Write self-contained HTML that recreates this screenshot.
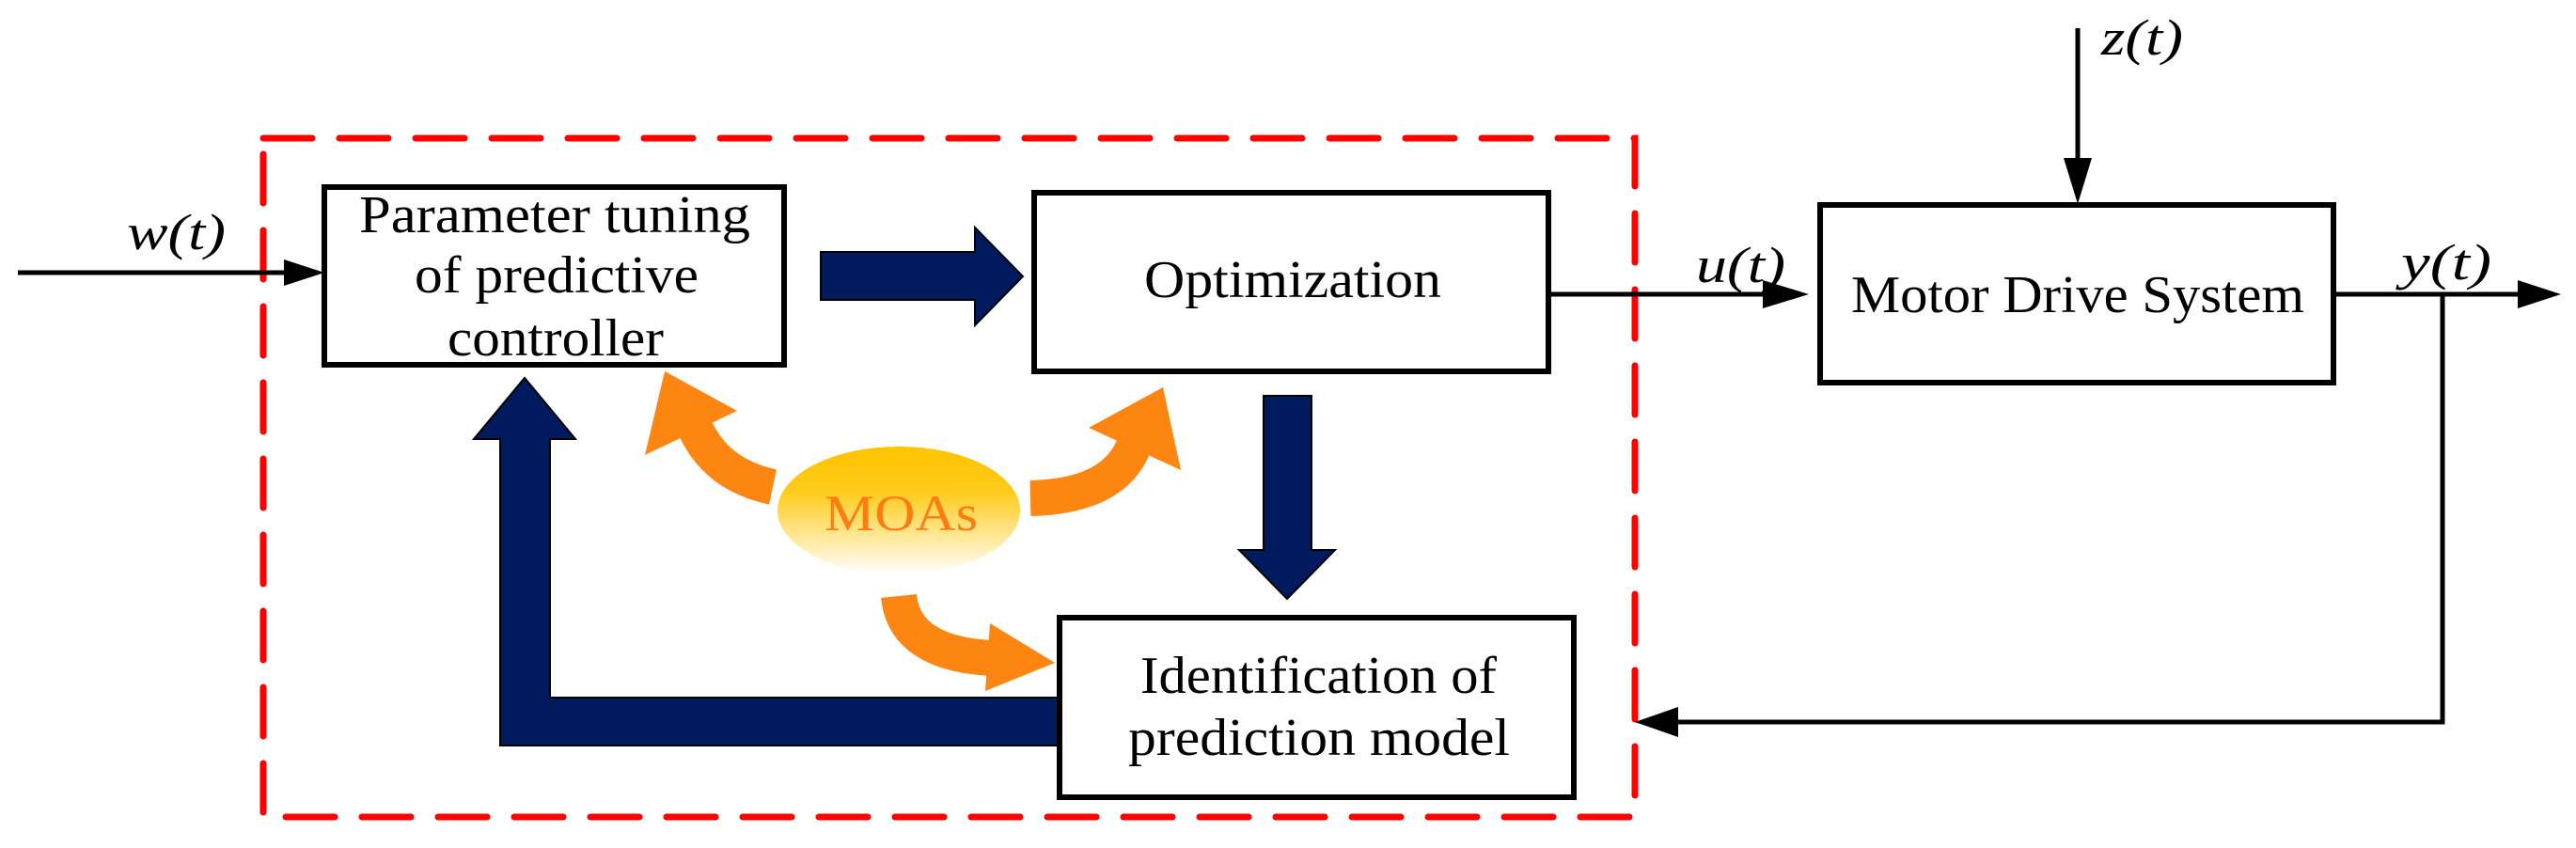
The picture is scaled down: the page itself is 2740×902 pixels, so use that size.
<!DOCTYPE html>
<html><head><meta charset="utf-8"><style>
html,body{margin:0;padding:0;background:#fff;}
svg{display:block;}
text{font-family:"Liberation Serif",serif;fill:#000;}
.it{font-style:italic;}
</style></head><body>
<svg width="2740" height="902" viewBox="0 0 2740 902" xmlns="http://www.w3.org/2000/svg">
<defs>
<linearGradient id="g" x1="0" y1="0" x2="0" y2="1">
<stop offset="0" stop-color="#ffc300"/>
<stop offset="0.35" stop-color="#ffcb1a"/>
<stop offset="1" stop-color="#ffffff"/>
</linearGradient>
</defs>
<!-- dashed box -->
<rect x="280" y="147" width="1459" height="722" fill="none" stroke="#ff0000" stroke-width="7" stroke-dasharray="52 29" stroke-linecap="round"/>

<!-- w(t) input -->
<line x1="19" y1="290" x2="305" y2="290" stroke="#000" stroke-width="5"/>
<polygon points="302,276 345,290 302,304" fill="#000"/>
<text x="135" y="265" class="it" font-size="54" textLength="105" lengthAdjust="spacingAndGlyphs">w(t)</text>

<!-- Box1 -->
<rect x="345" y="199" width="489" height="189" fill="#fff" stroke="#000" stroke-width="6"/>
<text x="382" y="247" font-size="56" textLength="416" lengthAdjust="spacingAndGlyphs">Parameter tuning</text>
<text x="441" y="311" font-size="56" textLength="302" lengthAdjust="spacingAndGlyphs">of predictive</text>
<text x="476" y="378" font-size="56" textLength="230" lengthAdjust="spacingAndGlyphs">controller</text>

<!-- navy right arrow -->
<polygon points="873,268 1037,268 1037,242 1088,294 1037,346 1037,319 873,319" fill="#001a5e" stroke="#000" stroke-width="2"/>

<!-- Box2 -->
<rect x="1100" y="205" width="547" height="190" fill="#fff" stroke="#000" stroke-width="6"/>
<text x="1217" y="316" font-size="56" textLength="316" lengthAdjust="spacingAndGlyphs">Optimization</text>

<!-- navy down arrow -->
<polygon points="1344,421 1395,421 1395,585 1420,585 1369,637 1318,585 1344,585" fill="#001a5e" stroke="#000" stroke-width="2"/>

<!-- navy feedback arrow -->
<polygon points="1126,742 585,742 585,467 612,467 558,402 504,467 532,467 532,793 1126,793" fill="#001a5e" stroke="#000" stroke-width="2"/>

<!-- Box3 -->
<rect x="1127" y="657" width="547" height="191" fill="#fff" stroke="#000" stroke-width="6"/>
<text x="1213" y="737" font-size="56" textLength="379" lengthAdjust="spacingAndGlyphs">Identification of</text>
<text x="1200" y="803" font-size="56" textLength="406" lengthAdjust="spacingAndGlyphs">prediction model</text>

<!-- MOAs -->
<ellipse cx="956" cy="543" rx="129" ry="68" fill="url(#g)"/>
<text x="877" y="564" font-size="54" fill="#ff7f0e" style="fill:#fb7d12" textLength="163" lengthAdjust="spacingAndGlyphs">MOAs</text>

<!-- orange curved arrows -->
<path d="M 822 518 Q 760 505 738 452" fill="none" stroke="#fd8512" stroke-width="38"/>
<polygon points="686,484 784,437 707,395" fill="#fd8512"/>
<path d="M 1096 530 Q 1185 528 1206 474" fill="none" stroke="#fd8512" stroke-width="38"/>
<polygon points="1158,455 1256,500 1237,412" fill="#fd8512"/>
<path d="M 956 634 Q 962 695 1054 700" fill="none" stroke="#fd8512" stroke-width="38"/>
<polygon points="1053,663 1048,735 1122,705" fill="#fd8512"/>

<!-- u(t) -->
<line x1="1647" y1="313" x2="1880" y2="313" stroke="#000" stroke-width="5"/>
<polygon points="1875,298 1924,313 1875,328" fill="#000"/>
<text x="1804" y="300" class="it" font-size="54" textLength="95" lengthAdjust="spacingAndGlyphs">u(t)</text>

<!-- z(t) -->
<line x1="2210" y1="30" x2="2210" y2="175" stroke="#000" stroke-width="5"/>
<polygon points="2195,168 2210,217 2225,168" fill="#000"/>
<text x="2235" y="58" class="it" font-size="54" textLength="87" lengthAdjust="spacingAndGlyphs">z(t)</text>

<!-- Box4 -->
<rect x="1936" y="218" width="546" height="189" fill="#fff" stroke="#000" stroke-width="6"/>
<text x="1969" y="332" font-size="56" textLength="482" lengthAdjust="spacingAndGlyphs">Motor Drive System</text>

<!-- y(t) -->
<line x1="2482" y1="313" x2="2680" y2="313" stroke="#000" stroke-width="5"/>
<polygon points="2678,298 2724,313 2678,328" fill="#000"/>
<text x="2554" y="297" class="it" font-size="54" textLength="96" lengthAdjust="spacingAndGlyphs">y(t)</text>

<!-- feedback line -->
<polyline points="2598,313 2598,768 1780,768" fill="none" stroke="#000" stroke-width="5"/>
<polygon points="1785,752 1739,768 1785,784" fill="#000"/>
</svg>
</body></html>
